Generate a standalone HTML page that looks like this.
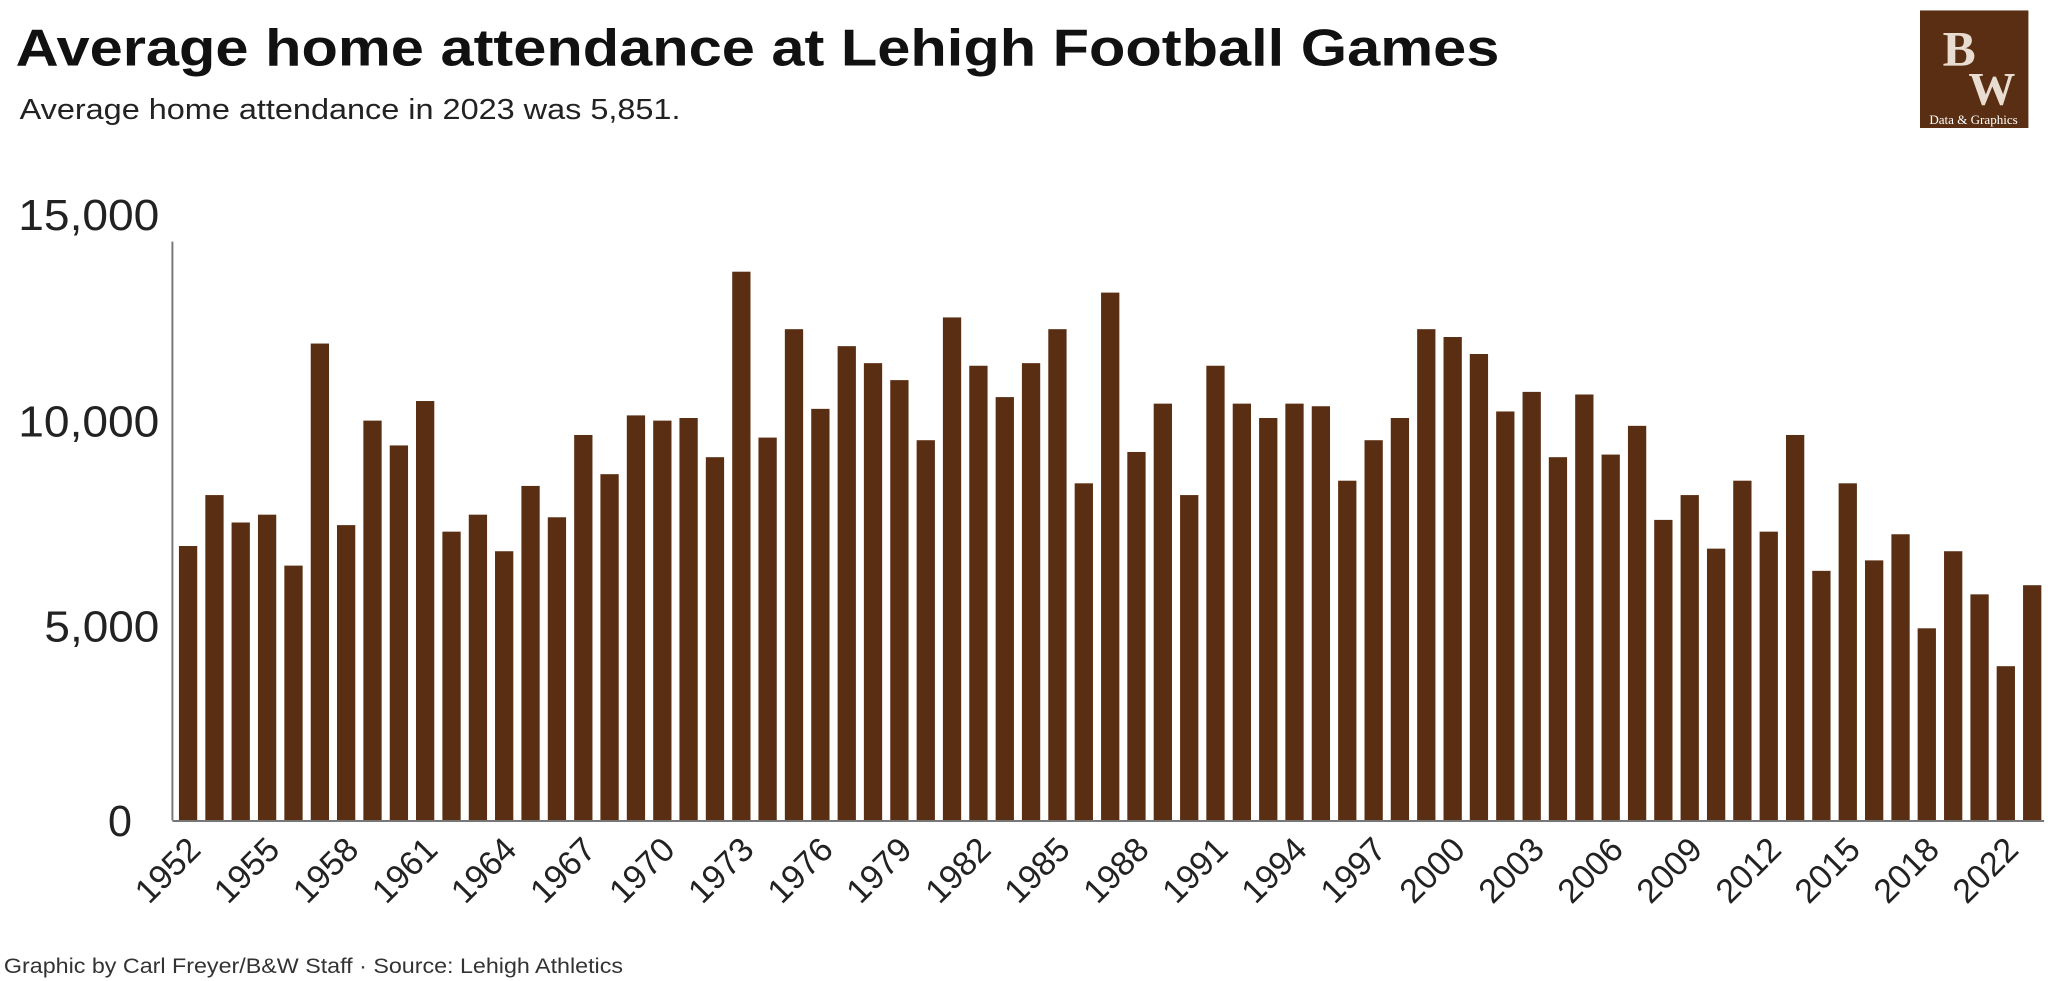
<!DOCTYPE html>
<html><head><meta charset="utf-8"><style>html,body{margin:0;padding:0;background:#fff;}svg{display:block}</style></head><body>
<svg width="2048" height="981" viewBox="0 0 1568 751" preserveAspectRatio="none" xmlns="http://www.w3.org/2000/svg" font-family="Liberation Sans, sans-serif">
<text x="12" y="50" font-size="40" font-weight="bold" fill="#111" textLength="1136" lengthAdjust="spacingAndGlyphs">Average home attendance at Lehigh Football Games</text>
<text x="15" y="91" font-size="22" fill="#222" textLength="506" lengthAdjust="spacingAndGlyphs">Average home attendance in 2023 was 5,851.</text>
<rect x="1470" y="8" width="83" height="90" fill="#5a2e12"/>
<text x="1500" y="50" font-size="38" font-family="Liberation Serif, serif" font-weight="bold" fill="#e8ddd0" text-anchor="middle">B</text>
<text x="1525" y="80" font-size="36" font-family="Liberation Serif, serif" font-weight="bold" fill="#e8ddd0" text-anchor="middle">W</text>
<text x="1511" y="95" font-size="10" font-family="Liberation Serif, serif" fill="#fff" text-anchor="middle">Data &amp; Graphics</text>
<g font-size="33" fill="#222" text-anchor="end">
<text x="122" y="176" textLength="108" lengthAdjust="spacingAndGlyphs">15,000</text><text x="122" y="334" textLength="108" lengthAdjust="spacingAndGlyphs">10,000</text><text x="122" y="491" textLength="88" lengthAdjust="spacingAndGlyphs">5,000</text><text x="101" y="640">0</text>
</g>
<line x1="132" y1="185" x2="132" y2="628" stroke="#777" stroke-width="1.5"/>
<g fill="#5a2e12">
<rect x="137" y="418" width="14" height="210"/><rect x="157.2" y="379" width="14" height="249"/><rect x="177.3" y="400" width="14" height="228"/><rect x="197.5" y="394" width="14" height="234"/><rect x="217.7" y="433" width="14" height="195"/><rect x="237.9" y="263" width="14" height="365"/><rect x="258" y="402" width="14" height="226"/><rect x="278.2" y="322" width="14" height="306"/><rect x="298.4" y="341" width="14" height="287"/><rect x="318.5" y="307" width="14" height="321"/><rect x="338.7" y="407" width="14" height="221"/><rect x="358.9" y="394" width="14" height="234"/><rect x="379" y="422" width="14" height="206"/><rect x="399.2" y="372" width="14" height="256"/><rect x="419.4" y="396" width="14" height="232"/><rect x="439.6" y="333" width="14" height="295"/><rect x="459.7" y="363" width="14" height="265"/><rect x="479.9" y="318" width="14" height="310"/><rect x="500.1" y="322" width="14" height="306"/><rect x="520.2" y="320" width="14" height="308"/><rect x="540.4" y="350" width="14" height="278"/><rect x="560.6" y="208" width="14" height="420"/><rect x="580.7" y="335" width="14" height="293"/><rect x="600.9" y="252" width="14" height="376"/><rect x="621.1" y="313" width="14" height="315"/><rect x="641.3" y="265" width="14" height="363"/><rect x="661.4" y="278" width="14" height="350"/><rect x="681.6" y="291" width="14" height="337"/><rect x="701.8" y="337" width="14" height="291"/><rect x="721.9" y="243" width="14" height="385"/><rect x="742.1" y="280" width="14" height="348"/><rect x="762.3" y="304" width="14" height="324"/><rect x="782.4" y="278" width="14" height="350"/><rect x="802.6" y="252" width="14" height="376"/><rect x="822.8" y="370" width="14" height="258"/><rect x="843" y="224" width="14" height="404"/><rect x="863.1" y="346" width="14" height="282"/><rect x="883.3" y="309" width="14" height="319"/><rect x="903.5" y="379" width="14" height="249"/><rect x="923.6" y="280" width="14" height="348"/><rect x="943.8" y="309" width="14" height="319"/><rect x="964" y="320" width="14" height="308"/><rect x="984.1" y="309" width="14" height="319"/><rect x="1004.3" y="311" width="14" height="317"/><rect x="1024.5" y="368" width="14" height="260"/><rect x="1044.7" y="337" width="14" height="291"/><rect x="1064.8" y="320" width="14" height="308"/><rect x="1085" y="252" width="14" height="376"/><rect x="1105.2" y="258" width="14" height="370"/><rect x="1125.3" y="271" width="14" height="357"/><rect x="1145.5" y="315" width="14" height="313"/><rect x="1165.7" y="300" width="14" height="328"/><rect x="1185.8" y="350" width="14" height="278"/><rect x="1206" y="302" width="14" height="326"/><rect x="1226.2" y="348" width="14" height="280"/><rect x="1246.4" y="326" width="14" height="302"/><rect x="1266.5" y="398" width="14" height="230"/><rect x="1286.7" y="379" width="14" height="249"/><rect x="1306.9" y="420" width="14" height="208"/><rect x="1327" y="368" width="14" height="260"/><rect x="1347.2" y="407" width="14" height="221"/><rect x="1367.4" y="333" width="14" height="295"/><rect x="1387.5" y="437" width="14" height="191"/><rect x="1407.7" y="370" width="14" height="258"/><rect x="1427.9" y="429" width="14" height="199"/><rect x="1448.1" y="409" width="14" height="219"/><rect x="1468.2" y="481" width="14" height="147"/><rect x="1488.4" y="422" width="14" height="206"/><rect x="1508.6" y="455" width="14" height="173"/><rect x="1528.7" y="510" width="14" height="118"/><rect x="1548.9" y="448" width="14" height="180"/>
</g>
<line x1="132" y1="628.5" x2="1565" y2="628.5" stroke="#777" stroke-width="1.5"/>
<g font-size="26" fill="#222" text-anchor="end">
<text transform="translate(155,652) rotate(-45)">1952</text>
<text transform="translate(215.5,652) rotate(-45)">1955</text>
<text transform="translate(276,652) rotate(-45)">1958</text>
<text transform="translate(336.5,652) rotate(-45)">1961</text>
<text transform="translate(397,652) rotate(-45)">1964</text>
<text transform="translate(457.6,652) rotate(-45)">1967</text>
<text transform="translate(518.1,652) rotate(-45)">1970</text>
<text transform="translate(578.6,652) rotate(-45)">1973</text>
<text transform="translate(639.3,652) rotate(-45)">1976</text>
<text transform="translate(699.6,652) rotate(-45)">1979</text>
<text transform="translate(760.1,652) rotate(-45)">1982</text>
<text transform="translate(820.6,652) rotate(-45)">1985</text>
<text transform="translate(881.1,652) rotate(-45)">1988</text>
<text transform="translate(941.6,652) rotate(-45)">1991</text>
<text transform="translate(1002.1,652) rotate(-45)">1994</text>
<text transform="translate(1062.7,652) rotate(-45)">1997</text>
<text transform="translate(1123.2,652) rotate(-45)">2000</text>
<text transform="translate(1183.7,652) rotate(-45)">2003</text>
<text transform="translate(1244.2,652) rotate(-45)">2006</text>
<text transform="translate(1304.7,652) rotate(-45)">2009</text>
<text transform="translate(1365.2,652) rotate(-45)">2012</text>
<text transform="translate(1425.7,652) rotate(-45)">2015</text>
<text transform="translate(1486.2,652) rotate(-45)">2018</text>
<text transform="translate(1546.7,652) rotate(-45)">2022</text>
</g>
<text x="3" y="745" font-size="16" fill="#333" textLength="474" lengthAdjust="spacingAndGlyphs">Graphic by Carl Freyer/B&amp;W Staff · Source: Lehigh Athletics</text>
</svg>
</body></html>
